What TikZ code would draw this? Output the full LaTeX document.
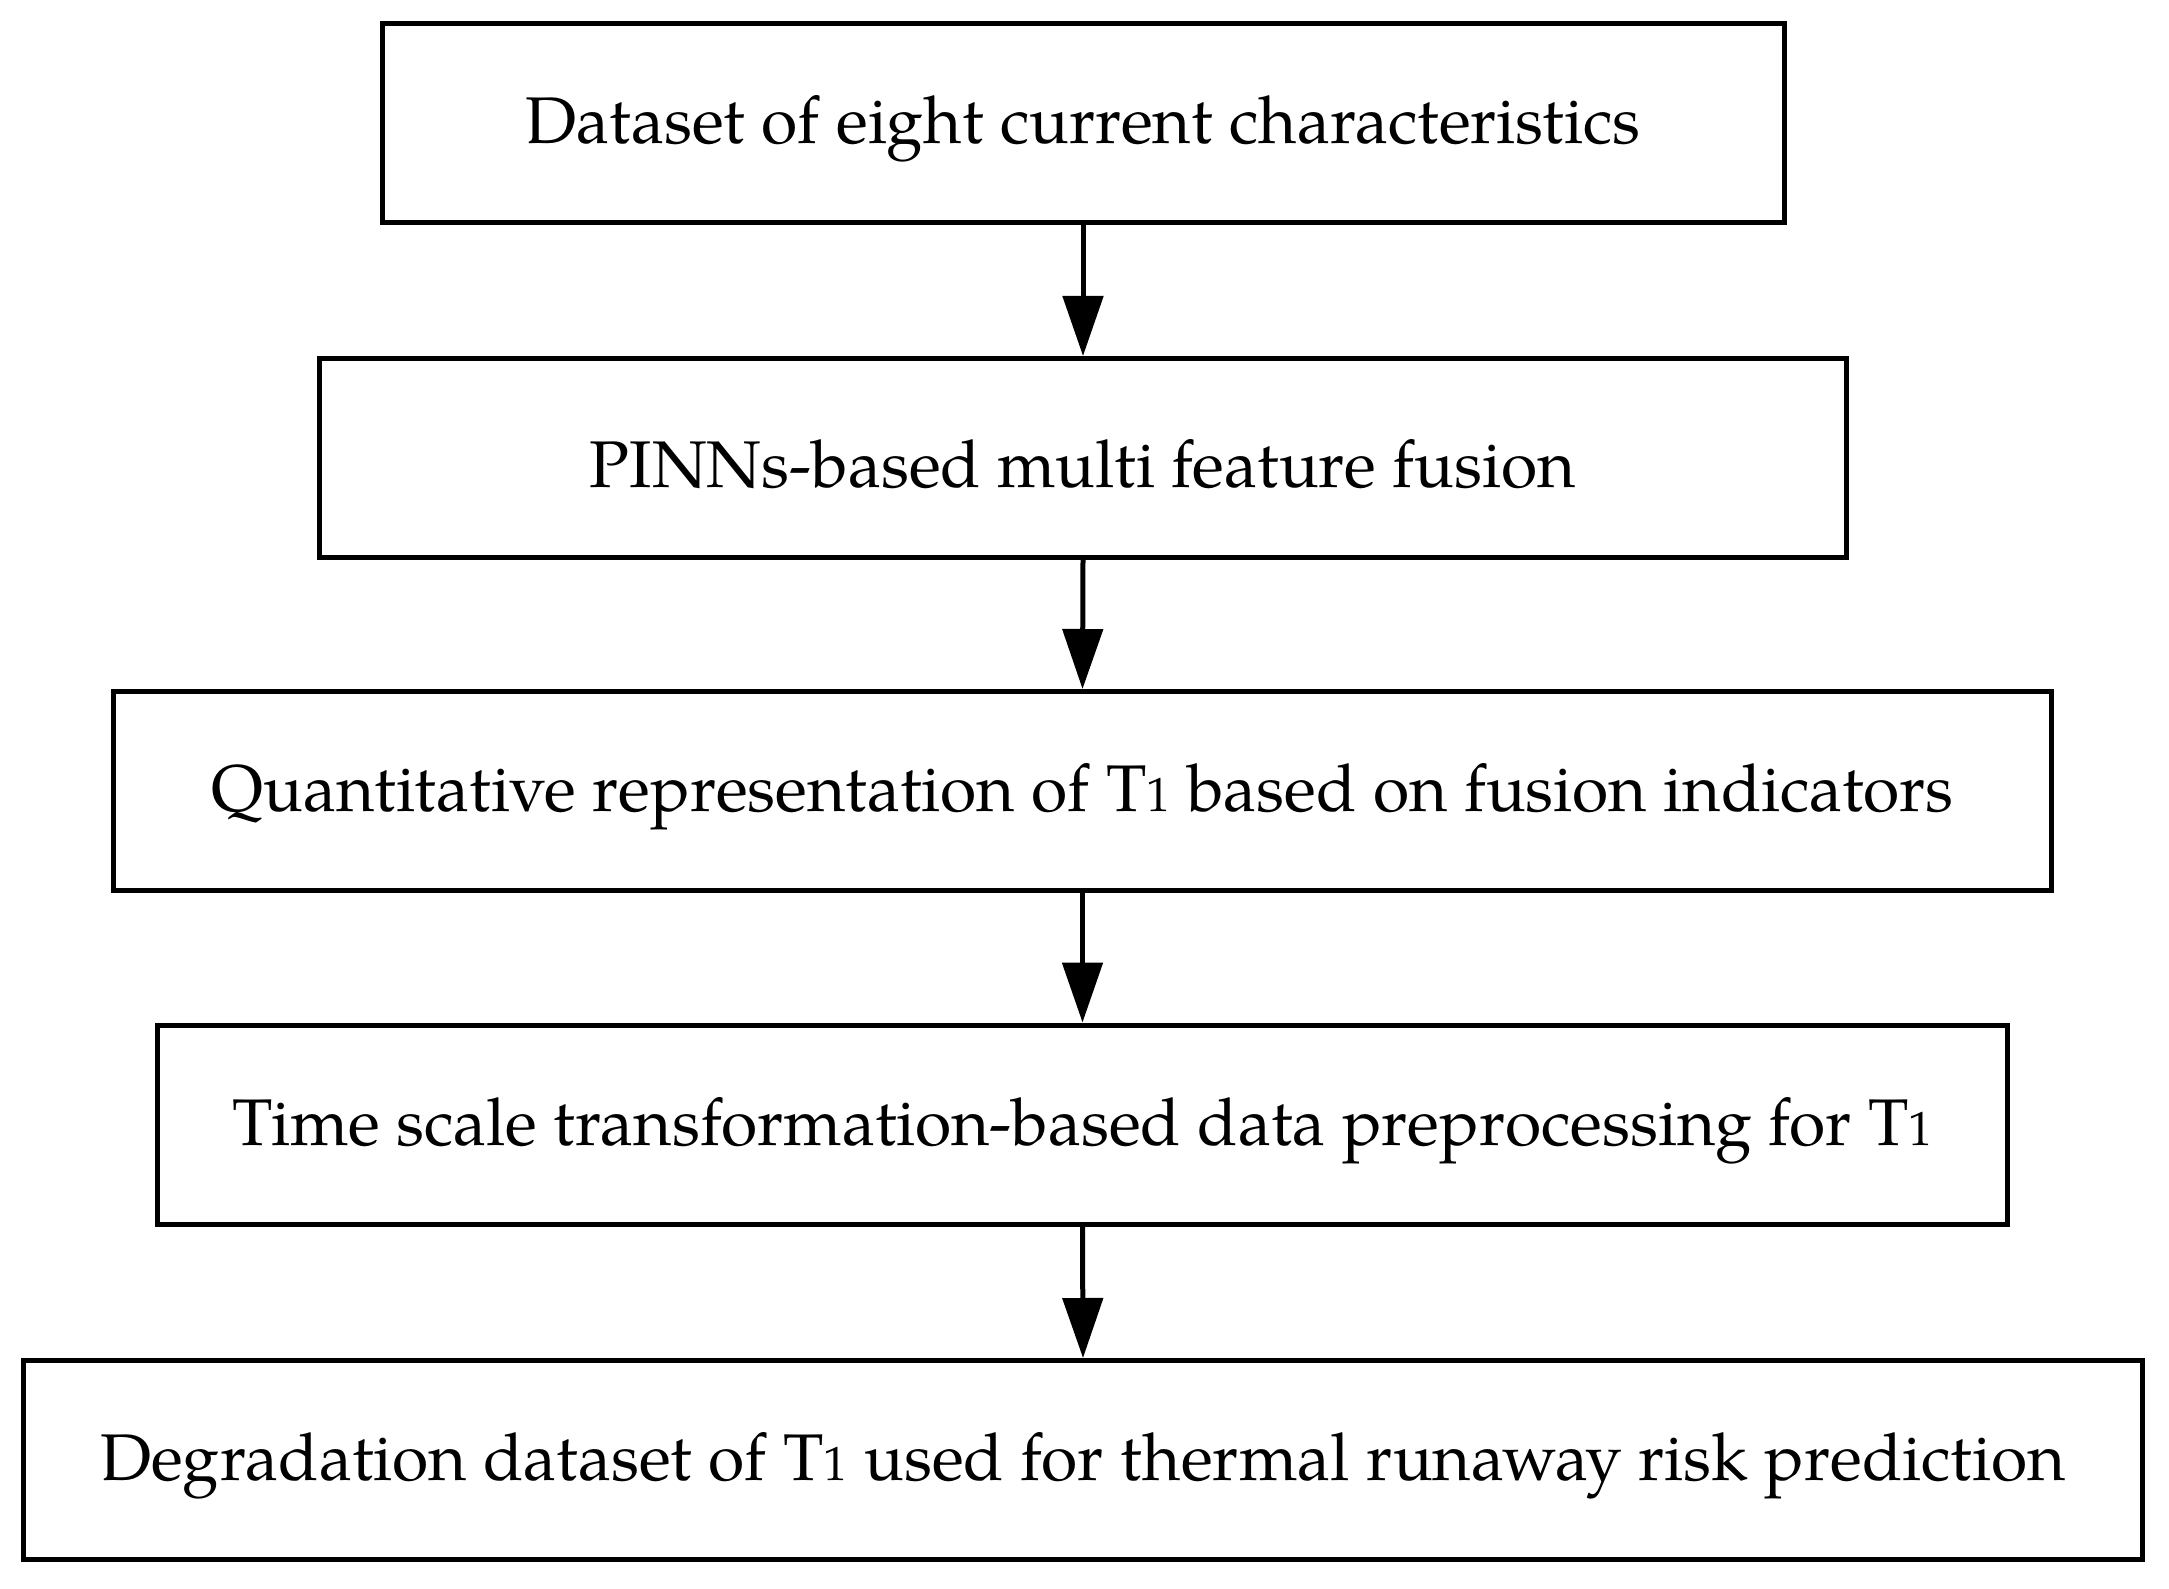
\documentclass[tikz,border=0pt]{standalone}
\usepackage{fontspec}
\setmainfont{TeX Gyre Pagella}
\usetikzlibrary{arrows.meta}
\newcommand{\Tone}{T{\fontsize{24}{24}\selectfont 1}}
\newcommand{\lowtext}[1]{\raisebox{-3pt}[\height][\depth]{#1}}
\begin{document}
\begin{tikzpicture}[x=0.5pt,y=-0.5pt,
  stepbox/.style={draw,line width=2.5pt,minimum height=99.5pt,inner sep=0pt,
    font=\fontsize{33}{39}\selectfont},
  flow/.style={line width=2.5pt,-{Triangle[length=30pt,width=20pt]}}]
\useasboundingbox (0,0) rectangle (2169,1589);
\node[stepbox,minimum width=701pt]   (b1) at (1083,123)  {\lowtext{Dataset of eight current characteristics}};
\node[stepbox,minimum width=763.75pt](b2) at (1083,458)  {\lowtext{PINNs-based multi feature fusion}};
\node[stepbox,minimum width=969pt]   (b3) at (1082.5,791)  {\lowtext{Quantitative representation of \Tone{} based on fusion indicators}};
\node[stepbox,minimum width=924.75pt](b4) at (1082.5,1124.5) {\lowtext{Time scale transformation-based data preprocessing for \Tone}};
\node[stepbox,minimum width=1059.5pt](b5) at (1083,1460) {\lowtext{Degradation dataset of \Tone{} used for thermal runaway risk prediction}};
\draw[flow] (b1.south) -- (b2.north);
\draw[flow] (b2.south) -- (b3.north);
\draw[flow] (b3.south) -- (b4.north);
\draw[flow] (b4.south) -- (b5.north);
\end{tikzpicture}
\end{document}
